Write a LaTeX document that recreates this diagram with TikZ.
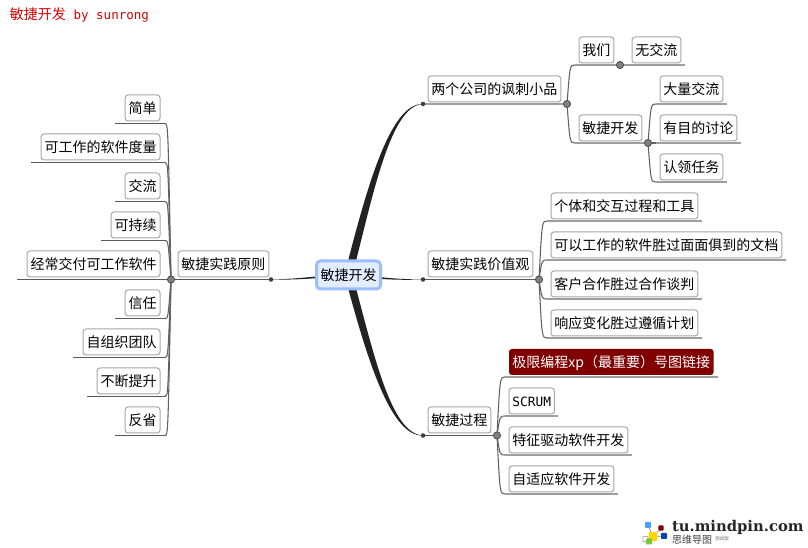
\documentclass[tikz,border=0pt]{standalone}
\usepackage{fontspec}
\setmainfont{Noto Sans CJK SC}
\newfontfamily\monofont{DejaVu Sans Mono}
\newfontfamily\logofont{DejaVu Serif}
\usetikzlibrary{calc,backgrounds}
\definecolor{knobgray}{HTML}{808080}
\definecolor{linkdark}{HTML}{222222}
\definecolor{rootfill}{HTML}{E4EDFF}
\definecolor{rootline}{HTML}{9CBEFF}
\tikzset{
	every node/.style={outer sep=0pt},
	box/.style={draw=black!35, line width=0.75pt, rounded corners=2.2pt, fill=white, inner xsep=2.6pt, inner ysep=0pt, minimum height=19.5pt, text height=9.6pt, text depth=1pt, font=\fontsize{10.5pt}{12pt}\selectfont},
	leafr/.style={box, anchor=west},
	leafl/.style={box, anchor=east},
	knob/.style={circle, draw=black!70, fill=knobgray, line width=0.6pt, inner sep=0pt, minimum size=5.4pt},
	pin/.style={circle, fill=black!75, inner sep=0pt, minimum size=3.4pt},
	limb/.style={fill=linkdark},
	stemcurve/.style={draw=black!62, line width=0.8pt},
	rule/.style={draw=black!38, line width=1.5pt},
	thinrule/.style={draw=black!65, line width=0.75pt},
	chip/.style={rectangle, rounded corners=0.6pt, inner sep=0pt, minimum size=4.5pt}
}
% bracket from a knob to the rule under a leaf
\newcommand{\stemR}[2]{
	\draw[stemcurve] (#1) .. controls ($(#1|-#2.south)+(3,2)$) .. ($(#1|-#2.south)+(8,2)$);
	\draw[rule] ($(#1|-#2.south)+(8,2)$) -- ($(#2.south east)+(4,2)$);
}
\newcommand{\stemL}[2]{
	\draw[stemcurve] (#1) .. controls ($(#1|-#2.south)+(-3,2.5)$) .. ($(#1|-#2.south)+(-6,2.5)$);
	\draw[thinrule] ($(#1|-#2.south)+(-6,2.5)$) -- ($(#2.south west)+(-10,2.5)$);
}
\begin{document}
\begin{tikzpicture}[x=0.75pt, y=-0.75pt]
	\useasboundingbox (0, 0) rectangle (808, 548);
	\node[anchor=west, inner sep=0pt, text=red!85!black, font=\fontsize{10.5pt}{12pt}\selectfont] (title) at (10, 15) {敏捷开发{\fontsize{9.4pt}{12pt}\monofont\ by sunrong}};

	\node[draw=rootline, fill=rootfill, line width=2.25pt, rounded corners=3pt, minimum width=48pt, minimum height=21pt, inner sep=0pt, font=\fontsize{10.5pt}{12pt}\selectfont] (root) at (348.5, 275) {敏捷开发};

	% right side, first level
	\node[leafr] (skit) at (428, 89) {两个公司的讽刺小品};
	\node[leafr] (values) at (428, 264) {敏捷实践价值观};
	\node[leafr] (process) at (428, 420) {敏捷过程};
	\node[pin] (pinskit) at (423, 104) {};
	\node[pin] (pinvalues) at (423, 279.5) {};
	\node[pin] (pinprocess) at (423, 435.5) {};
	\node[knob] (knobskit) at (567, 104) {};
	\node[knob] (knobvalues) at (539, 279.5) {};
	\node[knob] (knobprocess) at (497, 435.5) {};

	% two companies
	\node[leafr] (us) at (579, 50) {我们};
	\node[leafr] (agile) at (579, 128) {敏捷开发};
	\node[knob] (knobus) at (620, 65) {};
	\node[knob] (knobagile) at (648, 143) {};
	\node[leafr] (nochat) at (632, 50) {无交流};
	\node[leafr] (chat) at (660, 89) {大量交流};
	\node[leafr] (talk) at (660, 128) {有目的讨论};
	\node[leafr] (claim) at (660, 167) {认领任务};

	% values
	\node[leafr] (tools) at (551, 206) {个体和交互过程和工具};
	\node[leafr] (docs) at (551, 245) {可以工作的软件胜过面面俱到的文档};
	\node[leafr] (deal) at (551, 284) {客户合作胜过合作谈判};
	\node[leafr] (plan) at (551, 323) {响应变化胜过遵循计划};

	% process
	\node[leafr, draw=none, fill=red!50!black, text=white] (xp) at (509, 362) {极限编程xp（最重要）号图链接};
	\node[leafr, font=\fontsize{9.6pt}{12pt}\monofont] (scrum) at (509, 401) {SCRUM};
	\node[leafr] (feature) at (509, 440) {特征驱动软件开发};
	\node[leafr] (adaptive) at (509, 479) {自适应软件开发};

	% left side
	\node[box, anchor=west] (rules) at (178, 264) {敏捷实践原则};
	\node[pin] (pinrules) at (271, 279.5) {};
	\node[knob] (knobrules) at (171, 279.5) {};
	\node[leafl] (simple) at (160, 108) {简单};
	\node[leafl] (measure) at (160, 147) {可工作的软件度量};
	\node[leafl] (talkl) at (160, 186) {交流};
	\node[leafl] (last) at (160, 225) {可持续};
	\node[leafl] (deliver) at (160, 264) {经常交付可工作软件};
	\node[leafl] (trust) at (160, 303) {信任};
	\node[leafl] (team) at (160, 342) {自组织团队};
	\node[leafl] (improve) at (160, 381) {不断提升};
	\node[leafl] (reflect) at (160, 420) {反省};

	% logo
	\node[chip, draw=black!45, line width=0.4pt, fill=white, minimum size=4pt] (logoe) at (645.5, 539) {};
	\node[chip, fill=yellow!75!orange, minimum size=6.5pt] (logohub) at (653, 536.5) {};
	\node[chip, fill=blue!55!cyan!70] (logoa) at (648, 525) {};
	\node[chip, fill=red!50!black, minimum size=3.8pt] (logob) at (661, 528) {};
	\node[chip, fill=blue!60!cyan!70!black] (logoc) at (664, 536) {};
	\node[chip, fill=green!50!yellow!55!gray] (logod) at (649, 541.5) {};
	\node[anchor=west, inner sep=0pt, font=\fontsize{11.1pt}{12pt}\logofont\bfseries, text=black!85] (logotext) at (672, 527) {tu.mindpin.com};
	\node[anchor=west, inner sep=0pt, font=\fontsize{7.5pt}{8pt}\selectfont, text=black!75] (logosub) at (672, 540) {思维导图};
	\node[anchor=west, inner sep=0pt, font=\fontsize{3.5pt}{4pt}\selectfont, text=black!60] (logotag) at (715, 539) {测试版};

	\begin{scope}[on background layer]
		\fill[limb] ($(root.center)+(-4,0)$) .. controls (366, 190) and (390, 102.5) .. (pinskit.center) .. controls (391, 105.5) and (374, 190) .. ($(root.center)+(4,0)$) -- cycle;
		\fill[limb] ($(root.center)+(-4,0)$) .. controls (366, 355) and (390, 437) .. (pinprocess.center) .. controls (391, 434) and (374, 355) .. ($(root.center)+(4,0)$) -- cycle;
		\fill[limb] ($(root.east)+(-2,2)$) .. controls (400, 279.2) and (410, 279.2) .. (pinvalues.center) .. controls (410, 279.8) and (400, 280.2) .. ($(root.east)+(-2,3.8)$) -- cycle;
		\fill[limb] ($(root.west)+(2,1.2)$) .. controls (298, 278.4) and (285, 279.2) .. (pinrules.center) .. controls (285, 279.8) and (298, 279.6) .. ($(root.west)+(2,3)$) -- cycle;

		\draw[rule] (pinskit) -- (knobskit);
		\draw[thinrule] (pinvalues) -- (knobvalues);
		\draw[thinrule] (pinprocess) -- (knobprocess);
		\draw[thinrule] (knobrules) -- (pinrules);

		\draw[stemcurve] (knobskit) .. controls ($(knobskit|-knobus)+(3,0)$) .. ($(knobskit|-knobus)+(8,0)$);
		\draw[rule] ($(knobskit|-knobus)+(8,0)$) -- (knobus);
		\draw[stemcurve] (knobskit) .. controls ($(knobskit|-knobagile)+(3,0)$) .. ($(knobskit|-knobagile)+(8,0)$);
		\draw[rule] ($(knobskit|-knobagile)+(8,0)$) -- (knobagile);
		\draw[rule] (knobus) -- ($(nochat.south east)+(4,2)$);

		\foreach \leaf in {chat, talk, claim} {\stemR{knobagile}{\leaf}}
		\foreach \leaf in {tools, docs, deal, plan} {\stemR{knobvalues}{\leaf}}
		\foreach \leaf in {xp, scrum, feature, adaptive} {\stemR{knobprocess}{\leaf}}
		\foreach \leaf in {simple, measure, talkl, last, deliver, trust, team, improve, reflect} {\stemL{knobrules}{\leaf}}

		\foreach \chip in {logoa, logob, logoc, logod} {\draw[black!50, line width=0.5pt] (logohub) -- (\chip);}
	\end{scope}
\end{tikzpicture}
\end{document}
